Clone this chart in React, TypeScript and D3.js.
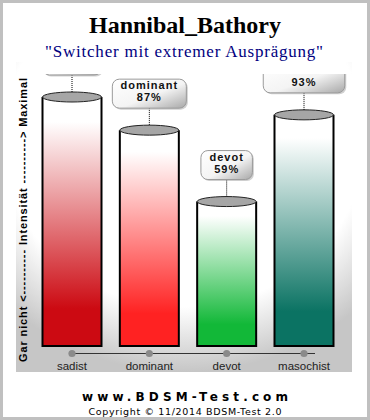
import React from "react";
import * as d3 from "d3";

const categories = ["sadist", "dominant", "devot", "masochist"];
const values = [100, 87, 59, 93];
const barColors = ["#cc0a12", "#ff2222", "#12b838", "#0b7363"];
const yTicks = [0, 100];

const W = 370;
const H = 420;
const CLIP_TOP = 74;

export default function App() {
  const x = d3.scalePoint<string>().domain(categories).range([72, 304]);
  const y = d3.scaleLinear().domain([yTicks[0], yTicks[1]]).range([352, 97]);
  const barW = 59;
  const barBottom = 346;
  const ry = 5;

  return (
    <svg width={W} height={H} style={{ position: "absolute", left: 0, top: 0 }}>
      <defs>
        <radialGradient id="panelGrad" cx="0.5" cy="0.25" r="0.75">
          <stop offset="0.72" stopColor="#ffffff" />
          <stop offset="1" stopColor="#c6c6c6" />
        </radialGradient>
        <linearGradient id="boxGrad" x1="0" y1="0" x2="1" y2="1">
          <stop offset="0" stopColor="#ffffff" />
          <stop offset="0.55" stopColor="#f4f4f4" />
          <stop offset="1" stopColor="#a8a8a8" />
        </linearGradient>
        {categories.map((c, i) => (
          <linearGradient key={c} id={`barGrad${i}`} x1="0" y1="0" x2="0" y2="1">
            <stop offset="0.1" stopColor="#ffffff" />
            <stop offset="0.85" stopColor={barColors[i]} />
          </linearGradient>
        ))}
        <clipPath id="plotClip">
          <rect x={16} y={CLIP_TOP} width={336} height={298} />
        </clipPath>
      </defs>

      <rect x={0} y={0} width={W} height={H} fill="#ffffff" />
      <rect x={1.5} y={1.5} width={W - 3} height={H - 3} fill="none" stroke="#c0c0c0" strokeWidth={3} />

      <rect x={16} y={62} width={336} height={310} fill="url(#panelGrad)" />

      <text x={185} y={33} textAnchor="middle" fontFamily="'Liberation Serif', serif" fontWeight="bold" fontSize={24} fill="#000">
        Hannibal_Bathory
      </text>
      <text x={184} y={57} textAnchor="middle" fontFamily="'Liberation Serif', serif" fontSize={17} fill="#000080" textLength={278} lengthAdjust="spacing">
        "Switcher mit extremer Ausprägung"
      </text>

      <text
        transform="translate(27,220) rotate(-90)"
        textAnchor="middle"
        fontFamily="'Liberation Sans', Arial, sans-serif"
        fontWeight="bold"
        fontSize={11}
        fill="#000"
        textLength={284}
        lengthAdjust="spacing"
      >
        Gar nicht &lt;---------- Intensität ----------&gt; Maximal
      </text>

      {/* axis line */}
      <line x1={x(categories[0])!} x2={x(categories[categories.length - 1])! + 11} y1={353.5} y2={353.5} stroke="#333" strokeWidth={1.2} />
      {categories.map((c) => (
        <circle key={c} cx={x(c)!} cy={353.5} r={3.6} fill="#8a8a8a" />
      ))}
      {categories.map((c) => (
        <text key={c} x={x(c)!} y={370} textAnchor="middle" fontFamily="'Liberation Sans', Arial, sans-serif" fontSize={11.5} fill="#222">
          {c}
        </text>
      ))}

      {/* bars */}
      {categories.map((c, i) => {
        const cx = x(c)!;
        const top = y(values[i]);
        const l = cx - barW / 2;
        const r = cx + barW / 2;
        return (
          <g key={c}>
            <rect x={l} y={top} width={barW} height={barBottom - top} fill={`url(#barGrad${i})`} />
            <path d={`M${l},${top} L${l},${barBottom} L${r},${barBottom} L${r},${top}`} fill="none" stroke="#000" strokeWidth={2} />
            <ellipse cx={cx} cy={top} rx={barW / 2} ry={ry} fill="#a6a6a6" stroke="#222" strokeWidth={1} />
          </g>
        );
      })}

      {/* value labels */}
      <g clipPath="url(#plotClip)">
        {categories.map((c, i) => {
          const cx = x(c)!;
          const top = y(values[i]);
          const boxBottom = top - 22;
          const boxH = 29;
          const bw = c.length * 7.5 + 14;
          const by = boxBottom - boxH;
          const l1 = by + 10;
          const l2 = by + 22;
          return (
            <g key={c}>
              <line x1={cx} x2={cx} y1={boxBottom} y2={top - ry} stroke="#000" strokeWidth={1} strokeDasharray="1,1" />
              <rect x={cx - bw / 2 + 1.5} y={by + 1.5} width={bw} height={boxH} rx={7} fill="#999" opacity={0.45} />
              <rect x={cx - bw / 2} y={by} width={bw} height={boxH} rx={7} fill="url(#boxGrad)" stroke="#9a9a9a" strokeWidth={1} />
              {l1 > CLIP_TOP + 2 && (
                <text x={cx} y={l1} textAnchor="middle" fontFamily="'Liberation Sans', Arial, sans-serif" fontWeight="bold" fontSize={11} letterSpacing={1} fill="#111">
                  {c}
                </text>
              )}
              {l2 > CLIP_TOP + 2 && (
                <text x={cx} y={l2} textAnchor="middle" fontFamily="'Liberation Sans', Arial, sans-serif" fontWeight="bold" fontSize={11} letterSpacing={1} fill="#111">
                  {values[i]}%
                </text>
              )}
            </g>
          );
        })}
      </g>

      <text x={185} y={401} textAnchor="middle" fontFamily="'DejaVu Sans', Verdana, sans-serif" fontWeight="bold" fontSize={12} fill="#000" textLength={206} lengthAdjust="spacing">
        www.BDSM-Test.com
      </text>
      <text x={185} y={415} textAnchor="middle" fontFamily="'DejaVu Sans', Verdana, sans-serif" fontSize={9.5} fill="#000" textLength={193} lengthAdjust="spacing">
        Copyright © 11/2014 BDSM-Test 2.0
      </text>
    </svg>
  );
}
